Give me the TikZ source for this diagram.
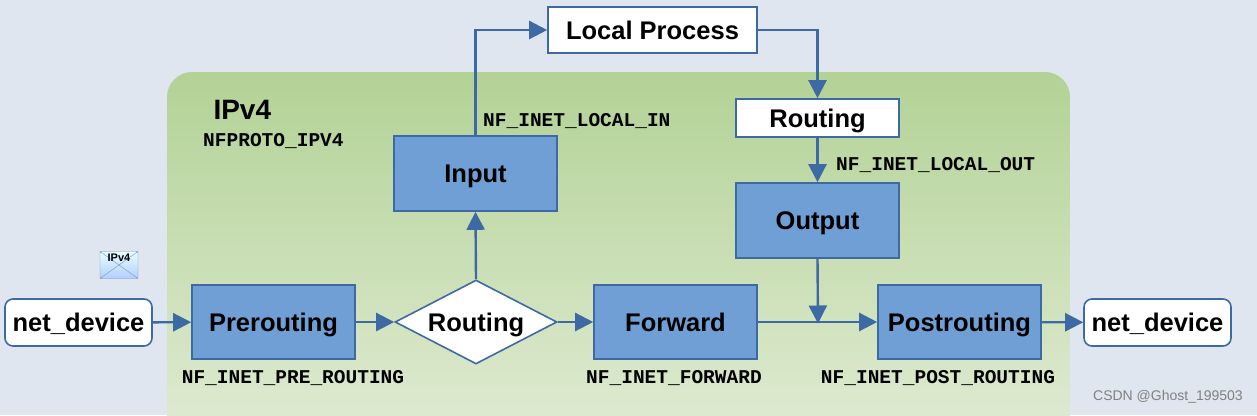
\documentclass[tikz,border=0pt]{standalone}
\usepackage{fontspec}
\setmainfont{Liberation Sans}
\newfontfamily\codefont{Liberation Mono}
\usetikzlibrary{arrows.meta,shapes.geometric}
\definecolor{bgc}{HTML}{DFE6EF}
\definecolor{lc}{HTML}{3D6AA5}
\definecolor{bf}{HTML}{6F9FD4}
\definecolor{gtop}{HTML}{B3D296}
\definecolor{gbot}{HTML}{E0EBD3}
\begin{document}
\begin{tikzpicture}[x=1pt,y=-1pt,
  txt/.style={font=\fontsize{25.5}{26}\selectfont\bfseries,inner sep=0pt,text height=18pt,text depth=0pt},
  box/.style={txt,draw=lc,line width=1.6pt,fill=bf},
  wbox/.style={txt,draw=lc,line width=1.6pt,fill=white},
  code/.style={font=\codefont\fontsize{19.5}{20}\selectfont\bfseries,inner sep=0pt},
  arr/.style={draw=lc,line width=2.4pt,-{Triangle[length=18pt,width=18pt]}},
  ln/.style={draw=lc,line width=2.4pt}]
\fill[bgc] (0,0) rectangle (1257,415);
\useasboundingbox (0,0) rectangle (1257,415);
\shade[top color=gtop,bottom color=gbot,rounded corners=25pt] (167,72) rectangle (1070,440);
\node[font=\fontsize{28}{30}\selectfont\bfseries,anchor=west] (ipv4) at (210,110) {IPv4};
\node[code,anchor=west] (proto) at (203,141) {NFPROTO\_IPV4};
% icon
\node[draw=lc!70,top color=cyan!10,bottom color=cyan!35!blue!30,minimum width=38pt,minimum height=27pt,inner sep=0pt,rounded corners=2pt] (icon) at (119,265) {};
\draw[lc!70] (icon.north west) -- (icon.center) -- (icon.north east);
\draw[lc!70] (icon.south west) -- (icon.center) -- (icon.south east);
\node[font=\fontsize{11}{11}\selectfont\bfseries,inner sep=0pt] (icontx) at (119,258) {IPv4};
% nodes
\node[wbox,rounded corners=8pt,minimum width=147pt,minimum height=47pt] (nd1) at (78.5,322.5) {net\_device};
\node[box,minimum width=163pt,minimum height=74pt] (pre) at (273.5,322) {Prerouting};
\node[wbox,diamond,aspect=1.93,minimum width=162pt,minimum height=84pt] (rt) at (476,322) {Routing};
\node[box,minimum width=163pt,minimum height=74pt] (fwd) at (675.5,322) {Forward};
\node[box,minimum width=163pt,minimum height=74pt] (post) at (959.5,322) {Postrouting};
\node[wbox,rounded corners=8pt,minimum width=147pt,minimum height=47pt] (nd2) at (1157.5,322.5) {net\_device};
\node[box,minimum width=163pt,minimum height=75pt] (in) at (475.5,173.5) {Input};
\node[box,minimum width=163pt,minimum height=75pt] (out) at (817.5,220.5) {Output};
\node[wbox,minimum width=163pt,minimum height=38pt] (rt2) at (817.5,118) {Routing};
\node[wbox,minimum width=209pt,minimum height=46pt] (lp) at (652.5,30) {Local Process};
% connectors
\draw[arr] (nd1) -- (pre);
\draw[arr] (pre) -- (rt);
\draw[arr] (rt) -- (fwd);
\draw[arr] (fwd) -- (post);
\draw[arr] (post) -- (nd2);
\draw[arr] (rt.north) -- (in.south);
\draw[arr] (in.north) |- (lp.west);
\draw[arr] (lp.east) -| (rt2.north);
\draw[arr] (rt2.south) -- (out.north);
\coordinate (j) at (818,322);
\draw[arr] (out.south) -- ([yshift=-1.5pt]j);
% labels
\node[code,anchor=west] (l1) at (483,121) {NF\_INET\_LOCAL\_IN};
\node[code,anchor=west] (l2) at (836,165) {NF\_INET\_LOCAL\_OUT};
\node[code] (l3) at (293,378) {NF\_INET\_PRE\_ROUTING};
\node[code] (l4) at (674,378) {NF\_INET\_FORWARD};
\node[code] (l5) at (938,378) {NF\_INET\_POST\_ROUTING};
\node[font=\fontsize{14}{15}\selectfont,text=gray,anchor=east,inner sep=0pt] (wm) at (1243,397) {CSDN @Ghost\_199503};
\end{tikzpicture}
\end{document}
